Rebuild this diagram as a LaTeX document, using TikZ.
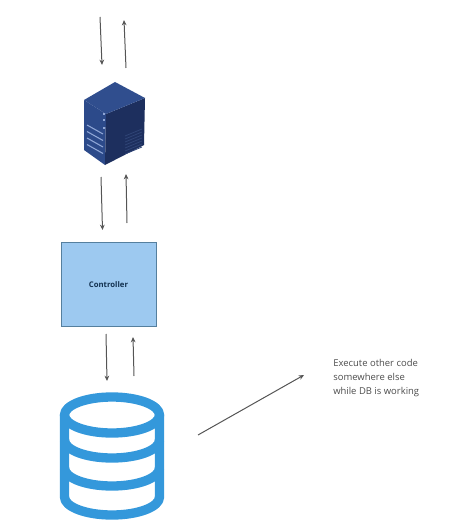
\documentclass[tikz,border=0pt]{standalone}
\usepackage{fontspec}
\setmainfont{Open Sans}
\usetikzlibrary{arrows.meta}
\definecolor{dbblue}{HTML}{3498DB}
\definecolor{ctrlfill}{HTML}{9DC9F0}
\definecolor{ctrledge}{HTML}{557F9E}
\definecolor{ctrltext}{HTML}{12304F}
\definecolor{arrowgray}{HTML}{555555}
\definecolor{srvfront}{HTML}{2C4A8A}
\definecolor{srvside}{HTML}{1D2F5E}
\definecolor{srvtop}{HTML}{304E8E}
\definecolor{srvlight}{HTML}{8FA6D6}
\definecolor{srvgrill}{HTML}{2F4476}
\tikzset{
  flow/.style={draw=arrowgray,line width=0.75pt,-{Stealth[length=4pt,width=3.5pt]}},
  ctrlbox/.style={draw=ctrledge,line width=0.6pt,fill=ctrlfill,minimum width=71.25pt,minimum height=63pt,inner sep=0pt},
  ctrllabel/.style={font=\fontsize{5.8pt}{7pt}\selectfont\bfseries,text=ctrltext},
  note/.style={font=\fontsize{7.1pt}{10.6pt}\selectfont,text=black!70,align=left,anchor=north west,inner sep=0pt},
  dbline/.style={draw=dbblue,line width=7pt,line cap=round,line join=round},
}
\begin{document}
\begin{tikzpicture}[x=0.75pt,y=-0.75pt]
\useasboundingbox (0,0) rectangle (474,531);
% server
\fill[srvfront] (84,100) -- (106,114) -- (105,165) -- (84,150) -- cycle;
\fill[srvside] (106,114) -- (145,98) -- (144,145) -- (105,165) -- cycle;
\fill[srvtop] (84,100) -- (115,82) -- (145,98) -- (106,114) -- cycle;
\foreach \y in {125,131.5,138,144.5} {
  \draw[srvlight,line width=0.8pt] (87,\y) -- (103,\y+9);
}
\foreach \y in {114,120,128} {
  \fill[srvlight] (103,\y-1) rectangle +(2,2);
}
\foreach \y in {134,137,140,143,146,149,152} {
  \draw[srvgrill,line width=0.6pt] (125,\y+2) -- (142,\y-5);
}
% controller
\node[ctrlbox] (ctrl) at (108.5,284) {};
\node[ctrllabel] (ctrltxt) at (108.5,284.5) {Controller};
% database
\draw[dbline] (112,415) ellipse [x radius=47.5,y radius=18];
\draw[dbline] (64.5,415) -- (64.5,497) arc[start angle=180,end angle=0,x radius=47.5,y radius=18] -- (159.5,415);
\draw[dbline] (64.5,440) arc[start angle=180,end angle=0,x radius=47.5,y radius=18];
\draw[dbline] (64.5,468) arc[start angle=180,end angle=0,x radius=47.5,y radius=18];
% note
\node[note] (txt) at (333,359) {Execute other code\\somewhere else\\while DB is working};
% connectors
\coordinate (a1) at (100,17); \coordinate (a2) at (102,65);
\coordinate (b1) at (126,68); \coordinate (b2) at (124,20);
\coordinate (c1) at (101,177); \coordinate (c2) at (102.5,230);
\coordinate (d1) at (127,223); \coordinate (d2) at (126,174);
\coordinate (e1) at (106,334); \coordinate (e2) at (107,381);
\coordinate (f1) at (134,376); \coordinate (f2) at (133,337);
\coordinate (g1) at (198,435); \coordinate (g2) at (304,375);
\draw[flow] (a1) -- (a2);
\draw[flow] (b1) -- (b2);
\draw[flow] (c1) -- (c2);
\draw[flow] (d1) -- (d2);
\draw[flow] (e1) -- (e2);
\draw[flow] (f1) -- (f2);
\draw[flow] (g1) -- (g2);
\end{tikzpicture}
\end{document}
